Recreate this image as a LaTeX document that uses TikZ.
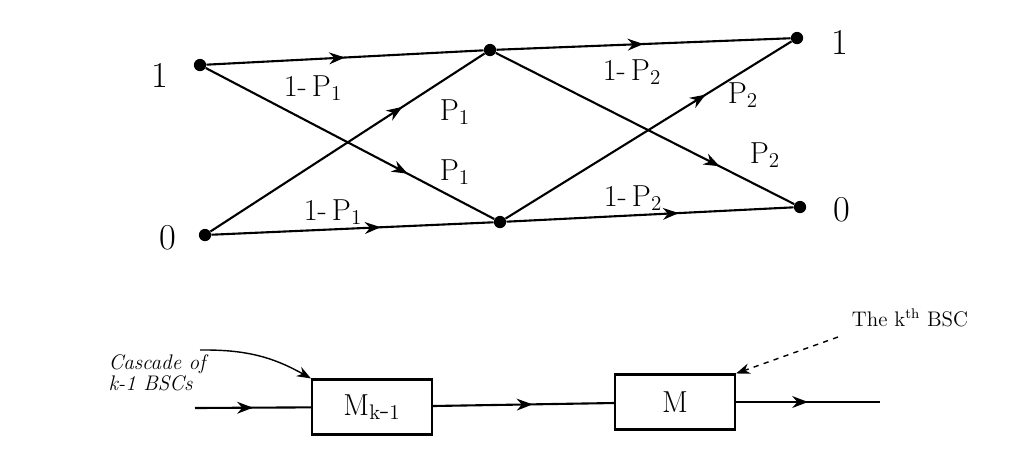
\documentclass[tikz,border=0pt]{standalone}
\usetikzlibrary{decorations.markings,arrows.meta}
\begin{document}
\begin{tikzpicture}[x=0.02cm,y=-0.02cm,
  dot/.style={circle,fill,inner sep=0pt,minimum size=7pt},
  wire/.style={very thick,decoration={markings,mark=at position #1 with {\arrow{Stealth[length=9pt]}}},postaction={decorate}},
  wire/.default=0.5,
  lbl/.style={font=\LARGE},
  blk/.style={draw,very thick,minimum width=2.4cm,minimum height=1.1cm,font=\LARGE}]
\useasboundingbox (0,0) rectangle (1024,458);
\node[dot] (a1) at (200,65) {};
\node[dot] (a0) at (205,235) {};
\node[dot] (b1) at (490,50) {};
\node[dot] (b0) at (500,222) {};
\node[dot] (c1) at (797,38) {};
\node[dot] (c0) at (800,207) {};
\node[font=\huge] (l1) at (160,75) {1};
\node[font=\huge] (l0) at (168,238) {0};
\node[font=\huge] (r1) at (840,42) {1};
\node[font=\huge] (r0) at (842,210) {0};
\draw[wire=0.5] (a1) -- (b1);
\draw[wire=0.7] (a1) -- (b0);
\draw[wire=0.7] (a0) -- (b1);
\draw[wire=0.6] (a0) -- (b0);
\draw[wire=0.5] (b1) -- (c1);
\draw[wire=0.75] (b1) -- (c0);
\draw[wire=0.7] (b0) -- (c1);
\draw[wire=0.6] (b0) -- (c0);
\node[lbl] (e1) at (313,88) {1-\,P$_1$};
\node[lbl] (e2) at (455,112) {P$_1$};
\node[lbl] (e3) at (455,172) {P$_1$};
\node[lbl] (e4) at (333,212) {1-\,P$_1$};
\node[lbl] (e5) at (632,72) {1-\,P$_2$};
\node[lbl] (e6) at (743,95) {P$_2$};
\node[lbl] (e7) at (765,155) {P$_2$};
\node[lbl] (e8) at (633,198) {1-\,P$_2$};
\node[blk] (m1) at (372,407) {M$_{\mathrm{k}\mbox{-}1}$};
\node[blk] (m2) at (675,402) {M};
\coordinate (in) at (195,408);
\coordinate (out) at (880,402);
\draw[wire=0.5] (in) -- (m1);
\draw[wire=0.55] (m1) -- (m2);
\draw[wire=0.5] (m2) -- (out);
\node[font=\large\itshape,align=left,inner sep=0pt] (cas) at (157,373) {Cascade of\\[-2pt]k-1 BSCs};
\coordinate (cs) at (200,350);
\draw[thick,-{Stealth[length=8pt]}] (cs) to[bend left=15] (m1.north west);
\node[font=\large] (kth) at (910,318) {The k$^{\rm th}$ BSC};
\coordinate (ks) at (838,337);
\draw[thick,dashed,-{Stealth[length=8pt]}] (ks) -- (m2.north east);
\end{tikzpicture}
\end{document}
